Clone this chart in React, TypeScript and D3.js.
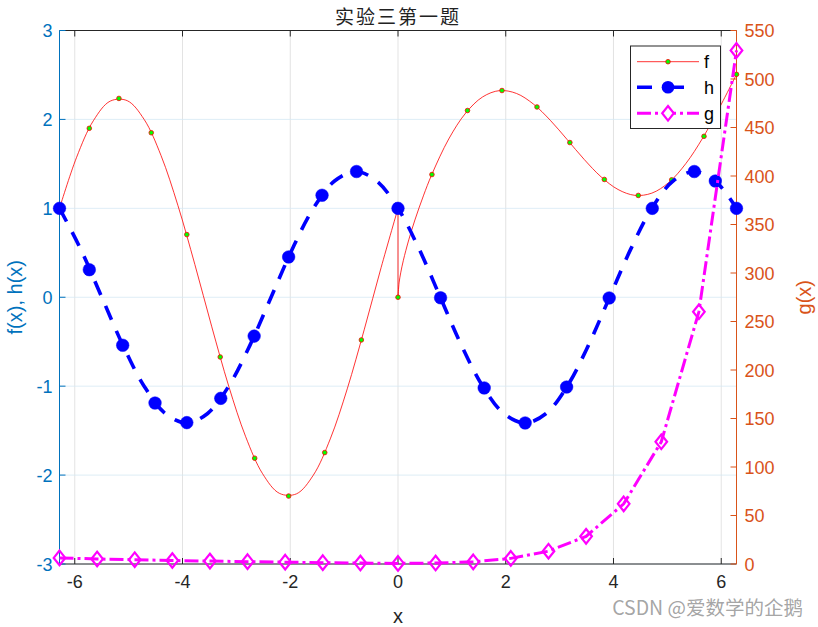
import React from "react";
import * as d3 from "d3";

// ---------- data ----------
const xTicks = [-6, -4, -2, 0, 2, 4, 6];
const yLeftTicks = [-3, -2, -1, 0, 1, 2, 3];
const yRightTicks = [0, 50, 100, 150, 200, 250, 300, 350, 400, 450, 500, 550];

// f(x): smooth thin red line, left branch (x<0) and right branch (x>=0)
const fLeftX = [-6.283, -5.969, -5.655, -5.341, -5.027, -4.712, -4.398, -4.084, -3.770, -3.456, -3.142, -2.827, -2.513, -2.199, -1.885, -1.571, -1.257, -0.942, -0.628, -0.314, 0];
const fLeftY = [1.0, 1.569, 1.985, 2.206, 2.211, 2.0, 1.593, 1.03, 0.367, -0.333, -1.0, -1.569, -1.985, -2.206, -2.211, -2.0, -1.593, -1.03, -0.367, 0.333, 1.0];
const fRightX = [0, 0.02, 0.05, 0.1, 0.2, 0.314, 0.471, 0.628, 0.942, 1.257, 1.571, 1.885, 2.199, 2.513, 2.827, 3.142, 3.456, 3.770, 4.084, 4.398, 4.712, 5.027, 5.341, 5.655, 5.969, 6.283];
const fRightY = [0, 0.161, 0.274, 0.416, 0.646, 0.869, 1.14, 1.381, 1.78, 2.072, 2.253, 2.324, 2.292, 2.173, 1.99, 1.772, 1.55, 1.354, 1.212, 1.146, 1.171, 1.291, 1.502, 1.79, 2.134, 2.507];
// f markers
const fMarkX = [-6.283, -5.73, -5.18, -4.58, -3.92, -3.30, -2.66, -2.03, -1.36, -0.68, 0, 0, 0.63, 1.29, 1.93, 2.58, 3.19, 3.83, 4.46, 5.08, 5.68, 6.283];
const fMarkY = [1.0, 1.9, 2.236, 1.85, 0.705, -0.672, -1.81, -2.236, -1.747, -0.48, 1.0, 0, 1.38, 2.1, 2.325, 2.14, 1.74, 1.325, 1.145, 1.32, 1.81, 2.507];

// h(x): thick blue dashed line
const hLineX = [-6.283, -5.890, -5.498, -5.105, -4.712, -4.320, -3.927, -3.534, -3.142, -2.749, -2.356, -1.963, -1.571, -1.178, -0.785, -0.393, 0, 0.393, 0.785, 1.178, 1.571, 1.963, 2.356, 2.749, 3.142, 3.534, 3.927, 4.320, 4.712, 5.105, 5.498, 5.890, 6.283];
const hLineY = [1.0, 0.541, 0, -0.541, -1.0, -1.307, -1.414, -1.307, -1.0, -0.541, 0, 0.541, 1.0, 1.307, 1.414, 1.307, 1.0, 0.541, 0, -0.541, -1.0, -1.307, -1.414, -1.307, -1.0, -0.541, 0, 0.541, 1.0, 1.307, 1.414, 1.307, 1.0];
const hMarkX = [-6.283, -5.73, -5.11, -4.51, -3.92, -3.29, -2.67, -2.03, -1.41, -0.77, 0, 0.79, 1.6, 2.36, 3.13, 3.92, 4.72, 5.5, 5.89, 6.283];
const hMarkY = [1.0, 0.31, -0.54, -1.19, -1.41, -1.137, -0.437, 0.453, 1.147, 1.414, 1.0, -0.006, -1.02, -1.414, -1.01, -0.008, 1.0, 1.414, 1.307, 1.0];

// g(x): magenta dash-dot line with diamonds (right axis)
const gX = [-6.283, -5.585, -4.887, -4.189, -3.491, -2.793, -2.094, -1.396, -0.698, 0, 0.698, 1.396, 2.094, 2.793, 3.491, 4.189, 4.887, 5.585, 6.283];
const gY = [6.3, 5.2, 4.4, 3.6, 3.0, 2.4, 1.9, 1.4, 1.0, 0.6, 1.0, 2.2, 5.8, 13.2, 28.5, 62, 126, 260, 529.5];

const legendLabels = ["f", "h", "g"];

// ---------- styles ----------
const W = 818;
const H = 627;
const L = 59.5, R = 736.5, T = 30.5, B = 564;
const LEFT_C = "#0072BD";
const RIGHT_C = "#D95319";
const AX_C = "#262626";
const FONT = "'Liberation Sans', Arial, Helvetica, sans-serif";
const CJK = "'Noto Sans CJK SC', 'Noto Sans CJK JP', sans-serif";

const diamond = (hw: number, hh: number) => `M0,${-hh}L${hw},0L0,${hh}L${-hw},0Z`;

export default function App() {
  const x = d3.scaleLinear().domain([-2 * Math.PI, 2 * Math.PI]).range([L, R]);
  const yL = d3.scaleLinear().domain([-3, 3]).range([B, T]);
  const yR = d3.scaleLinear().domain([0, 550]).range([B, T]);

  const smooth = d3.line<[number, number]>().x((d) => x(d[0])).y((d) => yL(d[1])).curve(d3.curveCatmullRom.alpha(0.5));
  const straightL = d3.line<[number, number]>().x((d) => x(d[0])).y((d) => yL(d[1]));
  const straightR = d3.line<[number, number]>().x((d) => x(d[0])).y((d) => yR(d[1]));

  const fLeft = fLeftX.map((v, i) => [v, fLeftY[i]] as [number, number]);
  const fRight = fRightX.map((v, i) => [v, fRightY[i]] as [number, number]);
  const fJump: [number, number][] = [[fLeftX[fLeftX.length - 1], fLeftY[fLeftY.length - 1]], [fRightX[0], fRightY[0]]];
  const hLine = hLineX.map((v, i) => [v, hLineY[i]] as [number, number]);
  const gLine = gX.map((v, i) => [v, gY[i]] as [number, number]);

  const tickLen = 6;
  const legX = 630.5, legY = 46, legW = 90, legH = 82.5;
  const legRows = [61.7, 87.3, 113.3];
  const legLineX0 = 637, legLineX1 = 699, legMarkX = 668;

  return (
    <svg width={W} height={H} style={{ position: "absolute", left: 0, top: 0, background: "#fff" }} xmlns="http://www.w3.org/2000/svg">
      <rect x={0} y={0} width={W} height={H} fill="#fff" />
      {/* grid */}
      {xTicks.map((t) => (
        <line key={"gx" + t} x1={x(t)} x2={x(t)} y1={T} y2={B} stroke="#dcdcdc" strokeWidth={0.8} />
      ))}
      {yLeftTicks.map((t) => (
        <line key={"gy" + t} x1={L} x2={R} y1={yL(t)} y2={yL(t)} stroke="#d6e8f4" strokeWidth={0.8} />
      ))}

      {/* axes box */}
      <line x1={L} x2={R} y1={T} y2={T} stroke={AX_C} strokeWidth={1} />
      <line x1={L} x2={R} y1={B} y2={B} stroke={AX_C} strokeWidth={1} />
      <line x1={L} x2={L} y1={T} y2={B} stroke={LEFT_C} strokeWidth={1} />
      <line x1={R} x2={R} y1={T} y2={B} stroke={RIGHT_C} strokeWidth={1} />
      {xTicks.map((t) => (
        <g key={"xt" + t}>
          <line x1={x(t)} x2={x(t)} y1={B} y2={B - tickLen} stroke={AX_C} strokeWidth={1} />
          <line x1={x(t)} x2={x(t)} y1={T} y2={T + tickLen} stroke={AX_C} strokeWidth={1} />
          <text x={x(t)} y={B + 24} textAnchor="middle" fontFamily={FONT} fontSize={18} fill={AX_C}>
            {t < 0 ? "-" + Math.abs(t) : String(t)}
          </text>
        </g>
      ))}
      {yLeftTicks.map((t) => (
        <g key={"yl" + t}>
          <line x1={L} x2={L + tickLen} y1={yL(t)} y2={yL(t)} stroke={LEFT_C} strokeWidth={1} />
          <text x={L - 7} y={yL(t) + 6.5} textAnchor="end" fontFamily={FONT} fontSize={18} fill={LEFT_C}>
            {t < 0 ? "-" + Math.abs(t) : String(t)}
          </text>
        </g>
      ))}
      {yRightTicks.map((t) => (
        <g key={"yr" + t}>
          <line x1={R} x2={R - tickLen} y1={yR(t)} y2={yR(t)} stroke={RIGHT_C} strokeWidth={1} />
          <text x={R + 8} y={yR(t) + 6.5} textAnchor="start" fontFamily={FONT} fontSize={18} fill={RIGHT_C}>
            {String(t)}
          </text>
        </g>
      ))}

      {/* labels */}
      <text x={398} y={24} textAnchor="middle" fontFamily={CJK} fontSize={19} fill="#222" letterSpacing={2}>
        实验三第一题
      </text>
      <text x={398} y={623} textAnchor="middle" fontFamily={FONT} fontSize={20} fill={AX_C}>x</text>
      <text transform={`translate(22,${(T + B) / 2}) rotate(-90)`} textAnchor="middle" fontFamily={FONT} fontSize={20} fill={LEFT_C}>
        f(x), h(x)
      </text>
      <text transform={`translate(811,${(T + B) / 2}) rotate(-90)`} textAnchor="middle" fontFamily={FONT} fontSize={20} fill={RIGHT_C}>
        g(x)
      </text>

      {/* f */}
      <path d={smooth(fLeft) || ""} fill="none" stroke="#ff0000" strokeWidth={0.8} />
      <path d={straightL(fJump) || ""} fill="none" stroke="#ff0000" strokeWidth={0.8} />
      <path d={smooth(fRight) || ""} fill="none" stroke="#ff0000" strokeWidth={0.8} />
      {fMarkX.map((v, i) => (
        <circle key={"fm" + i} cx={x(v)} cy={yL(fMarkY[i])} r={2.3} fill="#00ff00" stroke="#ff0000" strokeWidth={0.8} />
      ))}

      {/* h */}
      <path d={smooth(hLine) || ""} fill="none" stroke="#0000ff" strokeWidth={3.6} strokeDasharray="15 12" />
      {hMarkX.map((v, i) => (
        <circle key={"hm" + i} cx={x(v)} cy={yL(hMarkY[i])} r={6.3} fill="#0000ff" stroke="#0000ff" strokeWidth={0.5} />
      ))}

      {/* g */}
      <path d={straightR(gLine) || ""} fill="none" stroke="#ff00ff" strokeWidth={3} strokeDasharray="14 4 3 4" />
      {gX.map((v, i) => (
        <path key={"gm" + i} d={diamond(5.8, 7.3)} transform={`translate(${x(v)},${yR(gY[i])})`} fill="none" stroke="#ff00ff" strokeWidth={2.2} />
      ))}

      {/* legend */}
      <rect x={legX} y={legY} width={legW} height={legH} fill="#fff" stroke={AX_C} strokeWidth={1} />
      <g>
        <line x1={legLineX0} x2={legLineX1} y1={legRows[0]} y2={legRows[0]} stroke="#ff0000" strokeWidth={0.8} />
        <circle cx={legMarkX} cy={legRows[0]} r={2.3} fill="#00ff00" stroke="#ff0000" strokeWidth={0.8} />
        <line x1={legLineX0} x2={legLineX1 - 15} y1={legRows[1]} y2={legRows[1]} stroke="#0000ff" strokeWidth={3.6} strokeDasharray="15 22" />
        <circle cx={legMarkX} cy={legRows[1]} r={6.3} fill="#0000ff" />
        <line x1={legLineX0} x2={legLineX1} y1={legRows[2]} y2={legRows[2]} stroke="#ff00ff" strokeWidth={3} strokeDasharray="14 4 3 4" />
        <path d={diamond(5.8, 7.3)} transform={`translate(${legMarkX},${legRows[2]})`} fill="#fff" stroke="#ff00ff" strokeWidth={2.2} />
        {legendLabels.map((lab, i) => (
          <text key={lab} x={704} y={legRows[i] + 6.5} fontFamily={FONT} fontSize={18} fill="#000">
            {lab}
          </text>
        ))}
      </g>

      {/* watermark */}
      <text x={803} y={615} textAnchor="end" fontFamily={CJK} fontSize={19.5} fill="#9a9a9a" fillOpacity={0.9}>
        CSDN @爱数学的企鹅
      </text>
    </svg>
  );
}
